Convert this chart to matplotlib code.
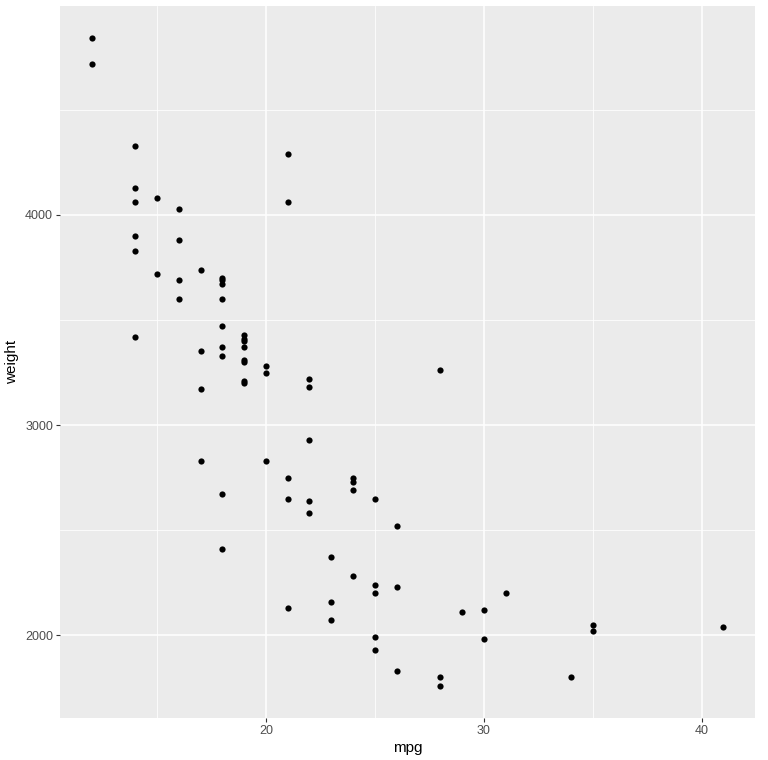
import matplotlib
matplotlib.use("Agg")
import matplotlib.pyplot as plt
from matplotlib.ticker import MultipleLocator

plt.rcParams['font.family'] = ['Liberation Sans', 'DejaVu Sans']

mpg = [12, 12,
       14, 14, 14, 14, 14, 14,
       15, 15,
       16, 16, 16, 16,
       17, 17, 17, 17,
       18, 18, 18, 18, 18, 18, 18, 18, 18,
       19, 19, 19, 19, 19, 19, 19, 19,
       20, 20, 20,
       21, 21, 21, 21, 21,
       22, 22, 22, 22, 22,
       23, 23, 23,
       24, 24, 24, 24,
       25, 25, 25, 25, 25,
       26, 26, 26,
       28, 28, 28,
       29, 30, 30, 31,
       34, 35, 35, 41]
weight = [4840, 4720,
          4330, 4130, 4060, 3900, 3830, 3420,
          4080, 3720,
          4030, 3880, 3690, 3600,
          3740, 3350, 3170, 2830,
          3700, 3690, 3670, 3600, 3470, 3370, 3330, 2670, 2410,
          3430, 3410, 3400, 3370, 3310, 3300, 3210, 3200,
          3280, 3250, 2830,
          4290, 4060, 2750, 2650, 2130,
          3220, 3180, 2930, 2640, 2580,
          2370, 2160, 2070,
          2750, 2730, 2690, 2280,
          2650, 2240, 2200, 1990, 1930,
          2520, 2230, 1830,
          3260, 1800, 1760,
          2110, 2120, 1980, 2200,
          1800, 2050, 2020, 2040]

fig = plt.figure(figsize=(7.68, 7.6), dpi=100)
ax = fig.add_axes([60 / 768, 42 / 760, 695 / 768, 712 / 760])
ax.set_facecolor('#EBEBEB')

ax.scatter(mpg, weight, s=20, color='black', linewidths=0, zorder=3)

ax.set_xlim(10.55, 42.45)
ax.set_ylim(1606, 4994)
ax.xaxis.set_major_locator(MultipleLocator(10))
ax.xaxis.set_minor_locator(MultipleLocator(5))
ax.yaxis.set_major_locator(MultipleLocator(1000))
ax.yaxis.set_minor_locator(MultipleLocator(500))

ax.grid(which='major', color='white', linewidth=1.1, zorder=1)
ax.grid(which='minor', color='white', linewidth=0.55, zorder=1)
ax.set_axisbelow(True)
for s in ax.spines.values():
    s.set_visible(False)

ax.tick_params(which='major', length=3, width=0.8, color='#333333',
               labelcolor='#4D4D4D', labelsize=9, pad=2)
ax.tick_params(which='minor', length=0)

ax.set_xlabel('mpg', fontsize=11, labelpad=3)
ax.set_ylabel('weight', fontsize=11, labelpad=4)

fig.savefig('out.png', dpi=100, facecolor='white')
